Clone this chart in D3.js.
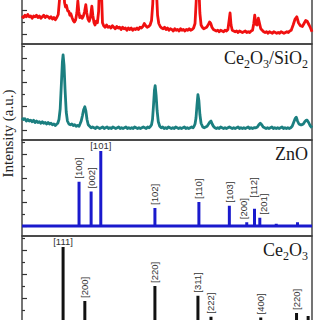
<!DOCTYPE html>
<html>
<head>
<meta charset="utf-8">
<script src="https://cdn.jsdelivr.net/npm/d3@7"></script>
<style>
  html, body { margin: 0; padding: 0; background: #fff; overflow: hidden; }
</style>
</head>
<body>
<div id="chart"></div>
<script>
// panels top -> bottom (top panel name is cut off in the reference)
const panelNames = ["", "Ce2O3/SiO2", "ZnO", "Ce2O3"];
const xDomain = [20, 80]; // 2θ (deg)
const majorTicks = [0, 32, 64, 96];
const minorTicks = [16, 48, 80, 112];

// measured pattern, top panel (2θ, intensity a.u.)
const redPattern = [
  [20.0,24],[20.3,22],[20.6,25],[20.9,23],[21.2,26],[21.5,23],[21.8,24],[22.1,21],[22.4,24],[22.7,23],
  [23.0,25],[23.3,22],[23.6,24],[23.9,21],[24.2,23],[24.5,25],[24.8,22],[25.1,24],[25.4,23],[25.7,21],
  [26.0,23],[26.3,20],[26.6,22],[26.9,19],[27.2,22],[27.5,26],[27.75,45],[28.0,80],[28.3,105],[28.55,78],
  [28.8,42],[29.0,36],[29.2,38],[29.45,31],[29.7,30],[29.9,25],[30.1,27],[30.35,22],[30.6,18],[30.85,16],
  [31.1,19],[31.35,28],[31.55,44],[31.75,30],[31.95,22],[32.2,24],[32.45,21],[32.7,24],[32.95,30],[33.2,39],
  [33.4,28],[33.65,20],[33.9,17],[34.15,22],[34.45,37],[34.65,25],[34.9,15],[35.1,12],[35.35,17],[35.6,15],
  [35.85,30],[36.05,70],[36.25,95],[36.45,55],[36.65,15],[36.9,11],[37.2,9],[37.5,12],[37.8,9],[38.1,10],
  [38.4,8],[38.7,11],[39.0,9],[39.3,7],[39.6,10],[39.9,8],[40.2,9],[40.5,6],[40.8,9],[41.1,7],
  [41.4,8],[41.7,5],[42.0,8],[42.3,6],[42.6,8],[42.9,5],[43.2,7],[43.5,6],[43.8,8],[44.1,6],
  [44.4,9],[44.7,8],[45.0,10],[45.3,14],[45.6,11],[45.9,9],[46.2,10],[46.5,12],[46.8,18],[47.05,40],
  [47.3,85],[47.55,100],[47.8,60],[48.05,25],[48.3,14],[48.6,10],[48.9,8],[49.2,7],[49.5,9],[49.8,6],
  [50.1,8],[50.4,5],[50.7,7],[51.0,6],[51.3,4],[51.6,7],[51.9,5],[52.2,6],[52.5,4],[52.8,7],
  [53.1,5],[53.4,6],[53.7,4],[54.0,6],[54.3,5],[54.6,7],[54.9,5],[55.2,6],[55.5,8],[55.8,14],
  [56.05,45],[56.3,90],[56.55,70],[56.8,28],[57.05,12],[57.3,9],[57.6,7],[57.9,8],[58.2,9],[58.5,12],
  [58.8,16],[59.05,14],[59.3,9],[59.6,6],[59.9,5],[60.2,4],[60.5,5],[60.8,3],[61.1,5],[61.4,4],
  [61.7,3],[62.0,5],[62.3,4],[62.6,6],[62.85,18],[63.05,28],[63.25,12],[63.5,5],[63.8,4],[64.1,3],
  [64.4,4],[64.7,2],[65.0,4],[65.3,3],[65.6,2],[65.9,3],[66.2,4],[66.5,2],[66.8,3],[67.1,2],
  [67.4,4],[67.7,5],[67.95,14],[68.15,25],[68.4,13],[68.65,12],[68.9,21],[69.15,14],[69.4,7],[69.7,5],
  [70.0,3],[70.3,2],[70.6,3],[70.9,1],[71.2,3],[71.5,2],[71.8,1],[72.1,3],[72.4,2],[72.7,1],
  [73.0,2],[73.3,1],[73.6,3],[73.9,2],[74.2,1],[74.5,2],[74.8,3],[75.1,2],[75.4,4],[75.7,5],
  [76.1,12],[76.5,20],[76.85,23],[77.2,15],[77.6,11],[78.0,10],[78.35,14],[78.7,18],[79.0,17],[79.4,12],
  [79.7,8],[80.0,3]
];

// Ce2O3/SiO2 pattern
const tealPattern = [
  [20.0,16],[20.3,14],[20.6,15],[20.9,12],[21.2,14],[21.5,12],[21.8,13],[22.1,11],[22.4,13],[22.7,10],
  [23.0,12],[23.3,10],[23.6,11],[23.9,9],[24.2,11],[24.5,9],[24.8,10],[25.1,8],[25.4,10],[25.7,8],
  [26.0,9],[26.3,7],[26.6,8],[26.9,6],[27.2,8],[27.4,9],[27.65,14],[27.9,28],[28.15,62],[28.35,90],
  [28.5,100],[28.7,86],[28.9,55],[29.15,24],[29.4,12],[29.7,8],[30.0,7],[30.3,8],[30.6,6],[30.9,7],
  [31.2,5],[31.5,6],[31.8,5],[32.0,8],[32.25,12],[32.5,19],[32.75,27],[33.0,31],[33.2,26],[33.45,14],
  [33.7,7],[34.0,5],[34.3,3],[34.6,4],[34.9,3],[35.2,2],[35.5,4],[35.8,3],[36.1,2],[36.4,3],
  [36.7,4],[37.0,2],[37.3,3],[37.6,4],[37.9,2],[38.2,3],[38.5,2],[38.8,4],[39.1,3],[39.4,2],
  [39.7,3],[40.0,4],[40.3,2],[40.6,3],[40.9,2],[41.2,3],[41.5,4],[41.8,2],[42.1,3],[42.4,2],
  [42.7,3],[43.0,2],[43.3,4],[43.6,3],[43.9,2],[44.2,3],[44.5,2],[44.8,3],[45.1,4],[45.4,3],
  [45.7,2],[46.0,4],[46.3,3],[46.6,5],[46.8,7],[47.0,14],[47.2,32],[47.4,53],[47.55,59],[47.75,46],
  [47.95,26],[48.2,11],[48.5,5],[48.8,3],[49.1,4],[49.4,2],[49.7,3],[50.0,2],[50.3,4],[50.6,3],
  [50.9,2],[51.2,3],[51.5,2],[51.8,4],[52.1,3],[52.4,2],[52.7,3],[53.0,2],[53.3,3],[53.6,4],
  [53.9,2],[54.2,3],[54.5,2],[54.8,3],[55.1,4],[55.4,3],[55.6,5],[55.8,8],[56.0,16],[56.2,33],
  [56.4,47],[56.6,39],[56.8,21],[57.05,9],[57.4,4],[57.7,3],[58.0,4],[58.3,5],[58.6,8],[58.9,11],
  [59.1,12],[59.35,8],[59.6,5],[59.9,3],[60.2,2],[60.5,3],[60.8,2],[61.1,4],[61.4,3],[61.7,2],
  [62.0,3],[62.3,2],[62.6,3],[62.9,4],[63.2,3],[63.5,2],[63.8,3],[64.1,2],[64.4,3],[64.7,4],
  [65.0,2],[65.3,3],[65.6,2],[65.9,3],[66.2,2],[66.5,3],[66.8,4],[67.1,2],[67.4,3],[67.7,2],
  [68.0,3],[68.4,3],[68.7,4],[69.0,7],[69.3,9],[69.6,7],[69.9,4],[70.2,3],[70.5,2],[70.8,3],
  [71.1,2],[71.4,3],[71.7,4],[72.0,2],[72.3,3],[72.6,2],[72.9,3],[73.2,2],[73.5,3],[73.8,4],
  [74.1,2],[74.4,3],[74.7,2],[75.0,3],[75.3,2],[75.6,3],[75.9,5],[76.2,10],[76.5,15],[76.75,17],
  [77.0,12],[77.3,8],[77.6,7],[77.9,7],[78.2,8],[78.5,11],[78.8,13],[79.0,13],[79.3,10],[79.6,6],
  [80.0,3]
];

// ZnO reference lines
const znoTheta     = [31.8, 34.3, 36.3, 47.5, 56.6, 62.9, 66.5, 68.1, 69.2, 72.6, 77.0];
const znoIntensity = [59, 46, 100, 24, 32, 27, 5, 23, 11, 3, 5];
const znoLabels    = ["[100]", "[002]", "[101]", "[102]", "[110]", "[103]", "[200]", "[112]", "[201]", "", ""];

// Ce2O3 reference lines
const ceTheta      = [28.5, 33.0, 47.5, 56.4, 59.1, 69.4, 76.8, 79.2];
const ceIntensity  = [100, 28, 48, 35, 7, 6, 12, 8];
const ceLabels     = ["[111]", "[200]", "[220]", "[311]", "[222]", "[400]", "[220]", ""];

// ---- layout ----
const W = 320, H = 320;
const left = 22, right = 312;
const panelH = 96, firstTop = -52;
// crowded labels pushed aside a bit (px)
const labelNudge = { "[200]": [-3, 0], "[112]": [-1, -8], "[201]": [4, 0] };

const svg = d3.select("#chart").append("svg")
  .attr("width", W).attr("height", H)
  .style("display", "block");

const x = d3.scaleLinear().domain(xDomain).range([left, right]);

function panelTop(i) { return firstTop + i * panelH; }
function panelY(i) {
  const bottom = panelTop(i) + panelH;
  return d3.scaleLinear().domain([0, 128]).range([bottom - 10, bottom - 106]);
}

// frames + ticks
panelNames.forEach((name, i) => {
  const top = panelTop(i);
  const y = panelY(i);

  svg.append("g")
    .attr("transform", `translate(${left},0)`)
    .call(d3.axisRight(y).tickValues(majorTicks).tickSize(5).tickFormat(""))
    .call(g => g.select(".domain").remove())
    .selectAll("line").attr("stroke", "#333").attr("stroke-width", 1.2);

  svg.append("g")
    .attr("transform", `translate(${left},0)`)
    .call(d3.axisRight(y).tickValues(minorTicks).tickSize(3).tickFormat(""))
    .call(g => g.select(".domain").remove())
    .selectAll("line").attr("stroke", "#333").attr("stroke-width", 1.2);

  svg.append("rect")
    .attr("x", left).attr("y", top)
    .attr("width", right - left).attr("height", panelH)
    .attr("fill", "none")
    .attr("stroke", "#3a3a3a")
    .attr("stroke-width", 1.4);

  if (name) {
    const t = svg.append("text")
      .attr("x", 308).attr("y", top + 20)
      .attr("text-anchor", "end")
      .style("font-family", "'Liberation Serif', 'Times New Roman', serif")
      .style("font-size", "18px")
      .attr("fill", "#1a1a1a");
    // digits become subscripts
    const parts = name.match(/\d+|\D+/g);
    let shifted = false;
    parts.forEach(p => {
      const isSub = /^\d+$/.test(p);
      const ts = t.append("tspan").text(p);
      if (isSub) {
        ts.style("font-size", "12px").attr("dy", shifted ? 0 : 4);
        shifted = true;
      } else if (shifted) {
        ts.attr("dy", -4);
        shifted = false;
      }
    });
  }
});

// continuous patterns
function drawPattern(data, i, color) {
  const y = panelY(i);
  const line = d3.line().x(d => x(d[0])).y(d => y(d[1]));
  svg.append("path")
    .datum(data)
    .attr("fill", "none")
    .attr("stroke", color)
    .attr("stroke-width", 2.8)
    .attr("stroke-linejoin", "round")
    .attr("d", line);
}
drawPattern(redPattern, 0, "#f01010");
drawPattern(tealPattern, 1, "#1b7f80");

// stick patterns
function drawSticks(theta, inten, labels, i, color) {
  const y = panelY(i);
  const g = svg.append("g");
  g.append("line")
    .attr("x1", x(xDomain[0])).attr("x2", x(xDomain[1]))
    .attr("y1", y(0)).attr("y2", y(0))
    .attr("stroke", color).attr("stroke-width", 3);
  const peaks = theta.map((t, k) => ({ t, v: inten[k], lab: labels[k] }));
  g.selectAll(".bar").data(peaks).enter().append("line")
    .attr("x1", d => x(d.t)).attr("x2", d => x(d.t))
    .attr("y1", y(0)).attr("y2", d => y(d.v))
    .attr("stroke", color).attr("stroke-width", 3);
  g.selectAll(".lab").data(peaks.filter(d => d.lab)).enter().append("text")
    .attr("transform", d => {
      const [nx, ny] = (i === 2 && labelNudge[d.lab]) || [0, 0];
      return d.v >= 90
        ? `translate(${x(d.t)},${y(d.v) - 2})`
        : `translate(${x(d.t) + 3.4 + nx},${y(d.v) - 3 + ny}) rotate(-90)`;
    })
    .attr("text-anchor", d => d.v >= 90 ? "middle" : "start")
    .style("font-family", "'Liberation Sans', Arial, sans-serif")
    .style("font-size", "9.5px")
    .attr("fill", "#333")
    .text(d => d.lab);
}
drawSticks(znoTheta, znoIntensity, znoLabels, 2, "#1a1acd");
drawSticks(ceTheta, ceIntensity, ceLabels, 3, "#111");

// y label
svg.append("text")
  .attr("transform", "translate(13,133.5) rotate(-90)")
  .attr("text-anchor", "middle")
  .style("font-family", "'Liberation Serif', 'Times New Roman', serif")
  .style("font-size", "15px")
  .attr("fill", "#222")
  .text("Intensity (a.u.)");
</script>
</body>
</html>
